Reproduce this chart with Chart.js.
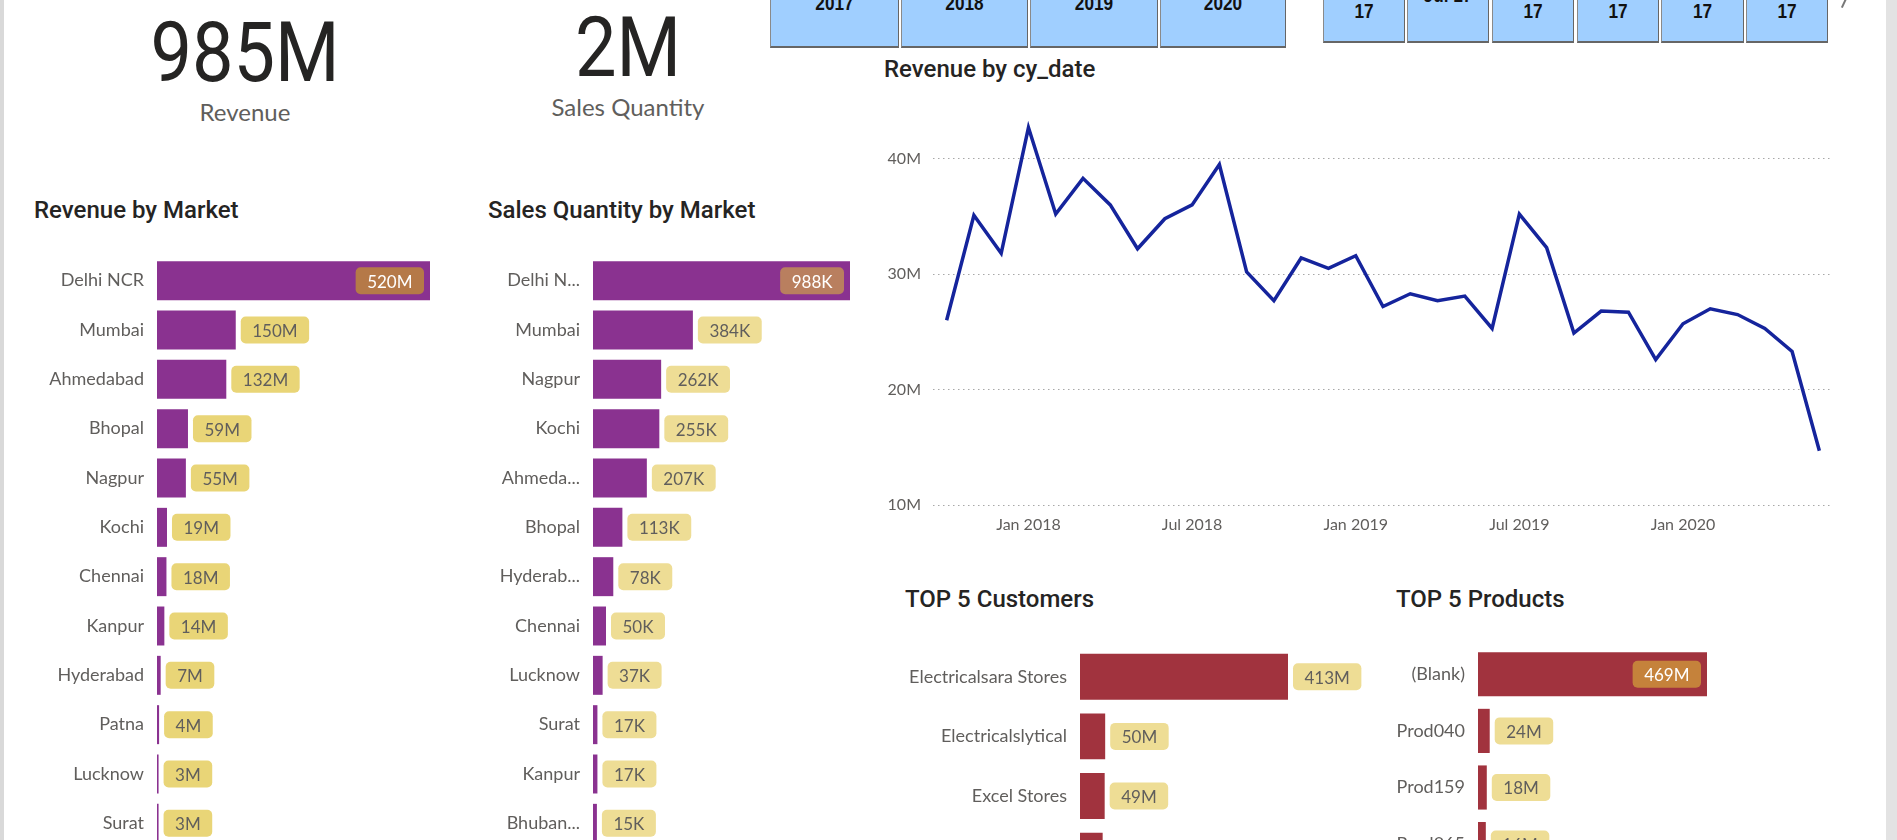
<!DOCTYPE html>
<html>
<head>
<meta charset="utf-8">
<title>Sales Insights</title>
<script src="https://cdn.jsdelivr.net/npm/chart.js@4.4.1/dist/chart.umd.min.js"></script>
<style>
html, body { margin: 0; padding: 0; }
body { width: 1897px; height: 840px; overflow: hidden; position: relative; background: #fff; font-family: Lato, "Noto Sans", sans-serif; }
.edge-left { position: absolute; left: 0; top: 0; width: 4px; height: 840px; background: #d9d9d9; }
.edge-right { position: absolute; left: 1886px; top: 0; width: 11px; height: 840px; background: #e3e3e3; }
.kpi-value { position: absolute; width: 400px; text-align: center; font-family: Roboto, sans-serif; font-size: 84px; line-height: 84px; color: #252423; transform: scaleX(0.88); }
.kpi-label { position: absolute; width: 400px; text-align: center; font-size: 24px; line-height: 24px; color: #605e5c; }
.title { position: absolute; font-family: Roboto, sans-serif; font-weight: 500; font-size: 24px; line-height: 24px; color: #252423; white-space: nowrap; }
.tile { position: absolute; box-sizing: border-box; background: #a0cfff; border: 1px solid #8a8a8a; border-right-color: #666; border-bottom: 2px solid #666; overflow: hidden; }
.tile span { position: absolute; left: 0; right: 0; text-align: center; font-family: "Liberation Sans", Arial, sans-serif; font-weight: bold; font-size: 21px; line-height: 21px; color: #111; transform: scaleX(0.82); }
.box { position: absolute; }
</style>
</head>
<body>
<div class="edge-left"></div>
<div class="edge-right"></div>

<!-- cartes KPI -->
<div class="kpi-value" style="left:45px; top:11px;">985M</div>
<div class="kpi-label" style="left:45px; top:100px;">Revenue</div>
<div class="kpi-value" style="left:428px; top:6px;">2M</div>
<div class="kpi-label" style="left:428px; top:95px;">Sales Quantity</div>

<!-- segments annee -->
<div class="tile" style="left:770px; top:-30px; width:129px; height:78px;"><span style="top:21px;">2017</span></div>
<div class="tile" style="left:901px; top:-30px; width:127px; height:78px;"><span style="top:21px;">2018</span></div>
<div class="tile" style="left:1030px; top:-30px; width:128px; height:78px;"><span style="top:21px;">2019</span></div>
<div class="tile" style="left:1160px; top:-30px; width:126px; height:78px;"><span style="top:21px;">2020</span></div>

<!-- segments mois -->
<div class="tile" style="left:1323px; top:-43px; width:82px; height:86px;"><span style="top:20px;">Jun</span><span style="top:42px;">17</span></div>
<div class="tile" style="left:1407px; top:-43px; width:82px; height:86px;"><span style="top:26px;">Jul 17</span></div>
<div class="tile" style="left:1492px; top:-43px; width:82px; height:86px;"><span style="top:20px;">Aug</span><span style="top:42px;">17</span></div>
<div class="tile" style="left:1577px; top:-43px; width:82px; height:86px;"><span style="top:20px;">Sep</span><span style="top:42px;">17</span></div>
<div class="tile" style="left:1661px; top:-43px; width:83px; height:86px;"><span style="top:20px;">Oct</span><span style="top:42px;">17</span></div>
<div class="tile" style="left:1746px; top:-43px; width:82px; height:86px;"><span style="top:20px;">Nov</span><span style="top:42px;">17</span></div>
<div style="position:absolute; left:1843px; top:-2px; width:1.5px; height:10px; background:#777; transform:rotate(25deg);"></div>

<!-- titres -->
<div class="title" style="left:34px; top:198px;">Revenue by Market</div>
<div class="title" style="left:488px; top:198px;">Sales Quantity by Market</div>
<div class="title" style="left:884px; top:57px;">Revenue by cy_date</div>
<div class="title" style="left:905px; top:587px;">TOP 5 Customers</div>
<div class="title" style="left:1396px; top:587px;">TOP 5 Products</div>

<!-- graphiques -->
<div class="box" style="left:34px; top:256px; width:396px; height:592px;"><canvas id="revenueMarket"></canvas></div>
<div class="box" style="left:488px; top:256px; width:362px; height:592px;"><canvas id="qtyMarket"></canvas></div>
<div class="box" style="left:884px; top:101px; width:949px; height:440px;"><canvas id="revenueDate"></canvas></div>
<div class="box" style="left:905px; top:647px; width:463px; height:298px;"><canvas id="topCustomers"></canvas></div>
<div class="box" style="left:1396px; top:646px; width:311px; height:283px;"><canvas id="topProducts"></canvas></div>

<script>
var revenueMarkets = ['Delhi NCR', 'Mumbai', 'Ahmedabad', 'Bhopal', 'Nagpur', 'Kochi', 'Chennai', 'Kanpur', 'Hyderabad', 'Patna', 'Lucknow', 'Surat'];
var revenueValues = [520, 150, 132, 59, 55, 19, 18, 14, 7, 4, 3, 3]; // en M

var qtyMarkets = ['Delhi NCR', 'Mumbai', 'Nagpur', 'Kochi', 'Ahmedabad', 'Bhopal', 'Hyderabad', 'Chennai', 'Lucknow', 'Surat', 'Kanpur', 'Bhubaneshwar'];
var qtyValues = [988, 384, 262, 255, 207, 113, 78, 50, 37, 17, 17, 15]; // en K

var months = ['Oct 2017', 'Nov 2017', 'Dec 2017', 'Jan 2018', 'Feb 2018', 'Mar 2018', 'Apr 2018', 'May 2018', 'Jun 2018',
    'Jul 2018', 'Aug 2018', 'Sep 2018', 'Oct 2018', 'Nov 2018', 'Dec 2018', 'Jan 2019', 'Feb 2019', 'Mar 2019',
    'Apr 2019', 'May 2019', 'Jun 2019', 'Jul 2019', 'Aug 2019', 'Sep 2019', 'Oct 2019', 'Nov 2019', 'Dec 2019',
    'Jan 2020', 'Feb 2020', 'Mar 2020', 'Apr 2020', 'May 2020', 'Jun 2020'];
var monthlyRevenue = [26.0, 35.1, 31.8, 42.7, 35.2, 38.3, 36.0, 32.2, 34.8, 36.0, 39.5, 30.2, 27.7, 31.4, 30.5, 31.6,
    27.2, 28.3, 27.7, 28.1, 25.3, 35.2, 32.3, 24.9, 26.8, 26.7, 22.6, 25.7, 27.0, 26.5, 25.3, 23.3, 14.7]; // en M

var customers = ['Electricalsara Stores', 'Electricalslytical', 'Excel Stores', 'Premium Stores', 'Nixon'];
var customerValues = [413, 50, 49, 45, 44]; // en M

var products = ['(Blank)', 'Prod040', 'Prod159', 'Prod065', 'Prod018'];
var productValues = [469, 24, 18, 16, 15]; // en M

var labelFont = 'Lato, "Noto Sans", sans-serif';
var measureCtx = document.createElement('canvas').getContext('2d');

// Raccourcir les libelles trop longs comme Power BI
function shorten(text, keepMax, cutMax) {
    measureCtx.font = '18px ' + labelFont;
    if (!keepMax || measureCtx.measureText(text).width <= keepMax) return text;
    var s = text;
    while (s.length > 1 && measureCtx.measureText(s + '...').width > cutMax) s = s.slice(0, -1);
    return s.trimEnd() + '...';
}

// Pas de marge verticale ajoutee par les libelles d'axe
function noVerticalPadding(scale) {
    scale.paddingTop = 0;
    scale.paddingBottom = 0;
}

function roundBox(ctx, x, y, w, h, r) {
    ctx.beginPath();
    ctx.moveTo(x + r, y);
    ctx.arcTo(x + w, y, x + w, y + h, r);
    ctx.arcTo(x + w, y + h, x, y + h, r);
    ctx.arcTo(x, y + h, x, y, r);
    ctx.arcTo(x, y, x + w, y, r);
    ctx.closePath();
    ctx.fill();
}

// Etiquettes de valeur avec fond arrondi
var valueBoxes = {
    id: 'valueBoxes',
    afterDatasetsDraw: function(chart, args, opts) {
        var ctx = chart.ctx;
        var meta = chart.getDatasetMeta(0);
        var values = chart.data.datasets[0].data;
        ctx.save();
        ctx.font = '17px ' + labelFont;
        ctx.textAlign = 'center';
        ctx.textBaseline = 'middle';
        meta.data.forEach(function(bar, i) {
            var text = values[i] + opts.unit;
            var w = ctx.measureText(text).width + 23;
            var h = 27;
            var x = bar.x + 5;
            var inside = false;
            if (x + w > chart.width) {
                x = bar.x - 6 - w;
                inside = true;
            }
            ctx.fillStyle = inside ? opts.insideBg : opts.bg;
            roundBox(ctx, x, bar.y - h / 2, w, h, 5);
            ctx.fillStyle = inside ? '#ffffff' : '#605e5c';
            ctx.fillText(text, x + w / 2, bar.y + 1.5);
        });
        ctx.restore();
    }
};

function makeBarChart(id, labels, values, o) {
    return new Chart(document.getElementById(id), {
        type: 'bar',
        data: {
            labels: labels,
            datasets: [{
                data: values,
                backgroundColor: o.color,
                barPercentage: o.bar,
                categoryPercentage: 1
            }]
        },
        options: {
            indexAxis: 'y',
            responsive: true,
            maintainAspectRatio: false,
            animation: false,
            layout: { padding: { right: o.padRight || 0 } },
            plugins: {
                legend: { display: false },
                tooltip: { enabled: false },
                valueBoxes: { unit: o.unit, bg: o.labelBg, insideBg: o.insideBg }
            },
            scales: {
                x: { display: false, min: 0, max: Math.max.apply(null, values) },
                y: {
                    afterFit: function(scale) {
                        scale.width = o.axisWidth;
                        noVerticalPadding(scale);
                    },
                    grid: { display: false, drawTicks: false },
                    border: { display: false },
                    ticks: {
                        autoSkip: false,
                        padding: 13,
                        color: '#605e5c',
                        font: { family: labelFont, size: 18 },
                        callback: function(v) { return shorten(this.getLabelForValue(v), o.keepMax, o.cutMax); }
                    }
                }
            }
        },
        plugins: [valueBoxes]
    });
}

makeBarChart('revenueMarket', revenueMarkets, revenueValues, {
    color: '#8a3290', bar: 0.79, unit: 'M', axisWidth: 123,
    labelBg: '#e9d577', insideBg: '#b57948'
});
makeBarChart('qtyMarket', qtyMarkets, qtyValues, {
    color: '#8a3290', bar: 0.79, unit: 'K', axisWidth: 105,
    labelBg: '#eedd95', insideBg: '#b97f5f', keepMax: 74, cutMax: 81
});
makeBarChart('topCustomers', customers, customerValues, {
    color: '#a1333e', bar: 0.77, unit: 'M', axisWidth: 175, padRight: 80,
    labelBg: '#eedd95', insideBg: '#c5823b'
});
makeBarChart('topProducts', products, productValues, {
    color: '#a1333e', bar: 0.78, unit: 'M', axisWidth: 82,
    labelBg: '#eedd95', insideBg: '#c5823b'
});

// Courbe du chiffre d'affaires par mois
new Chart(document.getElementById('revenueDate'), {
    type: 'line',
    data: {
        labels: months,
        datasets: [{
            data: monthlyRevenue,
            borderColor: '#15249c',
            borderWidth: 3.5,
            pointRadius: 0,
            tension: 0,
            fill: false
        }]
    },
    options: {
        responsive: true,
        maintainAspectRatio: false,
        animation: false,
        plugins: { legend: { display: false }, tooltip: { enabled: false } },
        scales: {
            x: {
                offset: true,
                grid: { display: false, drawTicks: false },
                border: { display: false },
                afterFit: function(scale) { scale.height = 36; },
                ticks: {
                    autoSkip: false,
                    maxRotation: 0,
                    padding: 10,
                    color: '#605e5c',
                    font: { family: labelFont, size: 16 },
                    callback: function(v) {
                        var l = months[v];
                        return (l.indexOf('Jan') === 0 || l.indexOf('Jul') === 0) ? l : '';
                    }
                }
            },
            y: {
                min: 10,
                max: 45,
                afterFit: function(scale) {
                    scale.width = 49;
                    noVerticalPadding(scale);
                },
                afterBuildTicks: function(scale) {
                    scale.ticks = scale.ticks.filter(function(t) { return t.value % 10 === 0; });
                },
                grid: { color: '#a8a8a8', lineWidth: 1, drawTicks: false },
                border: { display: false, dash: [1.5, 3.5] },
                ticks: {
                    stepSize: 10,
                    padding: 12,
                    color: '#605e5c',
                    font: { family: labelFont, size: 16 },
                    callback: function(v) { return v + 'M'; }
                }
            }
        }
    }
});
</script>
</body>
</html>
